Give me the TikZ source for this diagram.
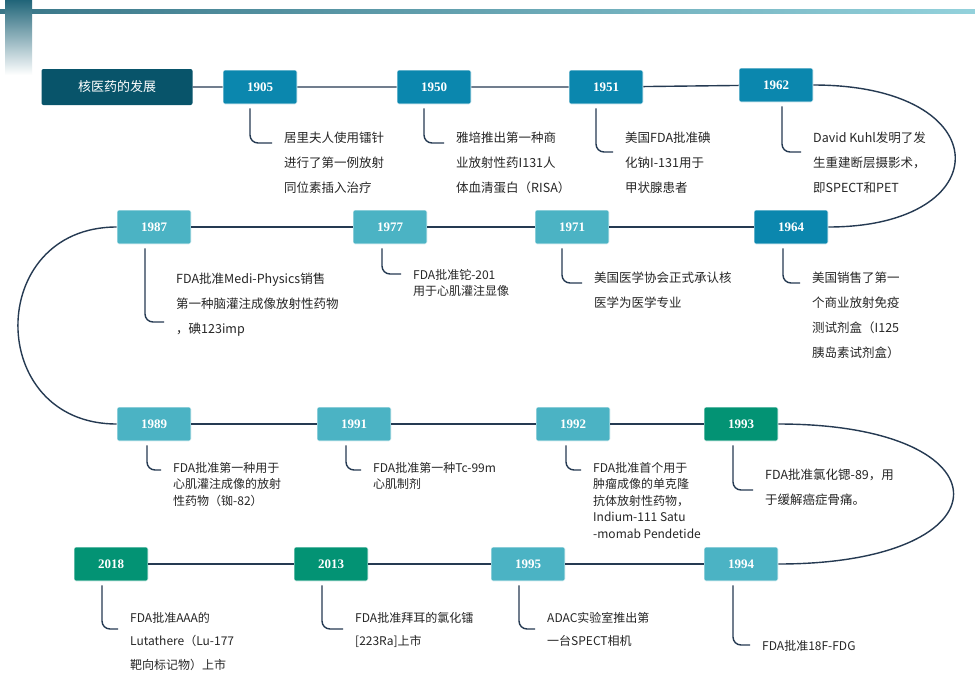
\documentclass[tikz,border=0pt]{standalone}
\usepackage{fontspec}
\setmainfont{Noto Sans CJK SC}
\newfontfamily\yrfont{Liberation Serif}
\begin{document}
\begin{tikzpicture}[x=1pt,y=-1pt,
  conn/.style={draw=lineC,line width=1.4pt},
  yr/.style={rounded corners=2pt,draw=white,line width=0.6pt,minimum width=74pt,minimum height=34pt,text=white,font=\yrfont\bfseries\fontsize{13}{15}\selectfont,inner sep=0pt},
  txt/.style={anchor=north west,align=left,text=black!85,inner sep=0pt,font=\fontsize{12.5}{25}\selectfont},
  tight/.style={font=\fontsize{12}{16.5}\selectfont}]
\definecolor{lineC}{HTML}{253A52}
\definecolor{darkC}{HTML}{08546A}
\definecolor{blueC}{HTML}{0B87AE}
\definecolor{tealC}{HTML}{4BB3C4}
\definecolor{greenC}{HTML}{039374}
\useasboundingbox (0,0) rectangle (975,689);
\fill[white] (0,0) rectangle (975,689);
\shade[left color=darkC!80,right color=tealC!60] (0,9) rectangle (975,13);
\shade[top color=darkC!90,bottom color=white] (5,0) rectangle (32,75);

\newcommand\evt[4]{\node[yr,fill=#4] (b#1) at (#2,#3) {#1};}
\newcommand\co[7]{\coordinate (k#1) at (#4-12,#3);
  \draw[conn,rounded corners=8pt] ([xshift=#2pt,yshift=-4pt]b#1.south) |- (k#1);
  \node[txt,#6] (t#1) at (#4,#5-8) {#7};}

\node[fill=darkC,rounded corners=2pt,minimum width=151pt,minimum height=36pt,text=white,font=\fontsize{13}{15}\selectfont] (title) at (117,87) {核医药的发展};
\evt{1905}{260}{87}{blueC}
\evt{1950}{434}{87}{blueC}
\evt{1951}{606}{87}{blueC}
\evt{1962}{776}{85}{blueC}
\evt{1987}{154}{227}{tealC}
\evt{1977}{390}{227}{tealC}
\evt{1971}{572}{227}{tealC}
\evt{1964}{791}{227}{blueC}
\evt{1989}{154}{424}{tealC}
\evt{1991}{354}{424}{tealC}
\evt{1992}{573}{424}{tealC}
\evt{1993}{741}{424}{greenC}
\evt{2018}{111}{564}{greenC}
\evt{2013}{331}{564}{greenC}
\evt{1995}{528}{564}{tealC}
\evt{1994}{741}{564}{tealC}

\draw[conn] (title) -- (b1905) -- (b1950) -- (b1951) -- (b1962);
\draw[conn] (b1962.east) .. controls (1000,85) and (1000,227) .. (b1964.east);
\draw[conn] (b1964) -- (b1971) -- (b1977) -- (b1987);
\draw[conn] (b1987.west) .. controls (-15,227) and (-15,424) .. (b1989.west);
\draw[conn] (b1989) -- (b1991) -- (b1992) -- (b1993);
\draw[conn] (b1993.east) .. controls (1012,424) and (1012,564) .. (b1994.east);
\draw[conn] (b1994) -- (b1995) -- (b2013) -- (b2018);

\co{1905}{-10}{143}{284}{140}{}{居里夫人使用镭针\\进行了第一例放射\\同位素插入治疗}
\co{1950}{-10}{143}{456}{140}{}{雅培推出第一种商\\业放射性药I131人\\体血清蛋白（RISA）}
\co{1951}{-10}{152}{625}{140}{}{美国FDA批准碘\\化钠I-131用于\\甲状腺患者}
\co{1962}{6}{152}{813}{140}{}{David Kuhl发明了发\\生重建断层摄影术，\\即SPECT和PET}
\co{1987}{-9}{322}{176}{281}{}{FDA批准Medi-Physics销售\\第一种脑灌注成像放射性药物\\，碘123imp}
\co{1977}{-8}{274}{413}{277}{tight}{FDA批准铊-201\\用于心肌灌注显像}
\co{1971}{-10}{283}{594}{280}{}{美国医学协会正式承认核\\医学为医学专业}
\co{1964}{-8}{283}{812}{280}{}{美国销售了第一\\个商业放射免疫\\测试剂盒（I125\\胰岛素试剂盒）}
\co{1989}{-7}{470}{173}{470}{tight}{FDA批准第一种用于\\心肌灌注成像的放射\\性药物（铷-82）}
\co{1991}{-8}{470}{373}{470}{tight}{FDA批准第一种Tc-99m\\心肌制剂}
\co{1992}{-7}{470}{593}{470}{tight}{FDA批准首个用于\\肿瘤成像的单克隆\\抗体放射性药物，\\Indium-111 Satu\\-momab Pendetide}
\co{1993}{-8}{490}{765}{477}{}{FDA批准氯化锶-89，用\\于缓解癌症骨痛。}
\co{2018}{-9}{629}{130}{620}{tight,font=\fontsize{12}{23.5}\selectfont}{FDA批准AAA的\\Lutathere（Lu-177\\靶向标记物）上市}
\co{2013}{-9}{629}{355}{620}{tight,font=\fontsize{12}{23.5}\selectfont}{FDA批准拜耳的氯化镭\\{}[223Ra]上市}
\co{1995}{-9}{629}{547}{620}{tight,font=\fontsize{12}{23.5}\selectfont}{ADAC实验室推出第\\一台SPECT相机}
\co{1994}{-8}{645}{762}{648}{tight}{FDA批准18F-FDG}
\end{tikzpicture}
\end{document}
